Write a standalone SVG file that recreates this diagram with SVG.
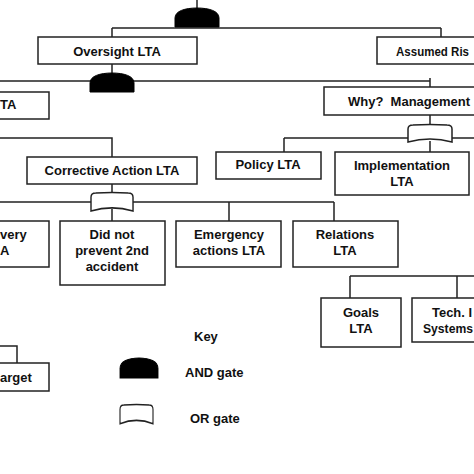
<svg xmlns="http://www.w3.org/2000/svg" width="474" height="474" viewBox="0 0 474 474">
<style>
.box{fill:#fff;stroke:#222;stroke-width:1.5}
.ln{fill:none;stroke:#222;stroke-width:1.5}
.t{font-family:"Liberation Sans",Arial,sans-serif;font-weight:bold;font-size:13px;fill:#111}
.c{text-anchor:middle}
.and{fill:#000;stroke:#000;stroke-width:1}
.or{fill:#fff;stroke:#222;stroke-width:1.5}
</style>
<defs>
<path id="andg" d="M0,19 V10 C0,3 10,0 22,0 C34,0 44,3 44,10 V19 Z"/>
<path id="org" d="M0,17 V4 Q0,0 5,0 Q22,-1 39,0 Q44,0 44,4 V17 Q22,11 0,17 Z"/>
</defs>
<rect width="474" height="474" fill="#fff"/>
<g id="connectors">
<path class="ln" d="M197,0 V9"/>
<path class="ln" d="M112,28 H441 M112,28 V37 M441,28 V37"/>
<path class="ln" d="M112,64 V74"/>
<path class="ln" d="M0,81 H430 M430,78 V87"/>
<path class="ln" d="M430,115 V126"/>
<path class="ln" d="M284,138 H474 M284,138 V152 M430,141 V152"/>
<path class="ln" d="M0,138 H112 V157"/>
<path class="ln" d="M112,184 V194"/>
<path class="ln" d="M0,202 H334 M229,202 V221 M334,202 V221 M112,209 V221"/>
<path class="ln" d="M350,276 H474 M350,276 V298 M457,276 V298"/>
<path class="ln" d="M0,346 H17 V363"/>
</g>
<g id="gate-and-top"><use href="#andg" class="and" transform="translate(175,8)"/></g>
<g id="gate-and-oversight"><use href="#andg" class="and" transform="translate(90,73)"/></g>
<g id="gate-or-why"><use href="#org" class="or" transform="translate(408,125)"/></g>
<g id="gate-or-corrective"><use href="#org" class="or" transform="translate(91,193) scale(0.955,1.06)"/></g>
<g id="node-oversight"><rect class="box" x="38" y="37" width="159" height="27"/><text class="t c" x="117" y="56">Oversight LTA</text></g>
<g id="node-assumed"><rect class="box" x="377" y="37" width="110" height="27"/><text class="t" x="396" y="56" textLength="73" lengthAdjust="spacingAndGlyphs">Assumed Ris</text></g>
<g id="node-ta"><rect class="box" x="-2" y="92" width="51" height="27"/><text class="t" x="0" y="109">TA</text></g>
<g id="node-why"><rect class="box" x="324" y="87" width="160" height="28"/><text class="t" x="348" y="106" xml:space="preserve">Why?  Management</text></g>
<g id="node-policy"><rect class="box" x="216" y="152" width="105" height="27"/><text class="t c" x="268" y="169">Policy LTA</text></g>
<g id="node-implementation"><rect class="box" x="335" y="152" width="134" height="43"/><text class="t c" x="402" y="170">Implementation</text><text class="t c" x="402" y="186">LTA</text></g>
<g id="node-corrective"><rect class="box" x="27" y="157" width="170" height="27"/><text class="t c" x="112" y="175">Corrective Action LTA</text></g>
<g id="node-recovery"><rect class="box" x="-2" y="221" width="51" height="46"/><text class="t" x="0" y="239">very</text><text class="t" x="0" y="255">A</text></g>
<g id="node-didnot"><rect class="box" x="60" y="221" width="105" height="64"/><text class="t c" x="112" y="239">Did not</text><text class="t c" x="112" y="255">prevent 2nd</text><text class="t c" x="112" y="271">accident</text></g>
<g id="node-emergency"><rect class="box" x="176" y="221" width="105" height="46"/><text class="t c" x="229" y="239">Emergency</text><text class="t c" x="229" y="255">actions LTA</text></g>
<g id="node-relations"><rect class="box" x="293" y="221" width="105" height="46"/><text class="t c" x="345" y="239">Relations</text><text class="t c" x="345" y="255">LTA</text></g>
<g id="node-goals"><rect class="box" x="321" y="298" width="80" height="49"/><text class="t c" x="361" y="317">Goals</text><text class="t c" x="361" y="333">LTA</text></g>
<g id="node-tech"><rect class="box" x="412" y="298" width="80" height="44"/><text class="t" x="432" y="317" textLength="40" lengthAdjust="spacingAndGlyphs">Tech. I</text><text class="t" x="423" y="333" textLength="50" lengthAdjust="spacingAndGlyphs">Systems</text></g>
<g id="node-target"><rect class="box" x="-2" y="363" width="51" height="28"/><text class="t" x="0" y="382">arget</text></g>
<g id="key">
<text class="t" x="194" y="341">Key</text>
<use href="#andg" class="and" transform="translate(120,358) scale(0.864,1.05)"/>
<text class="t" x="185" y="377">AND gate</text>
<use href="#org" class="or" transform="translate(120,405) scale(0.75,1.1)"/>
<text class="t" x="190" y="423">OR gate</text>
</g>
</svg>
